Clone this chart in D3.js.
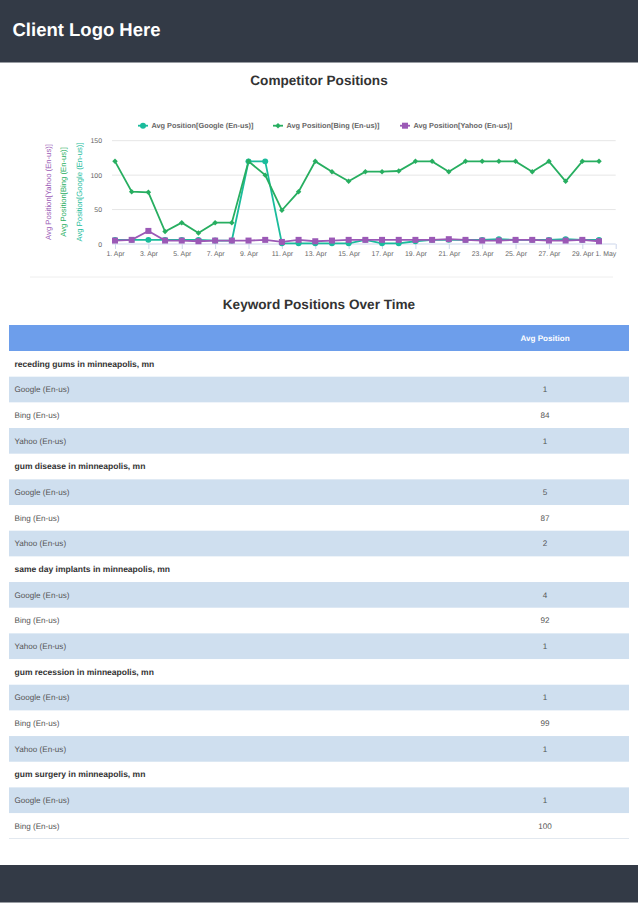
<!DOCTYPE html>
<html>
<head>
<meta charset="utf-8">
<script src="https://d3js.org/d3.v7.min.js"></script>
<style>
  html, body { margin: 0; padding: 0; background: #fff; }
  text { font-family: "Liberation Sans", Arial, sans-serif; text-rendering: geometricPrecision; }
</style>
</head>
<body>
<div id="page"></div>
<script>
// chart data
const dayLabels = ["1. Apr","2. Apr","3. Apr","4. Apr","5. Apr","6. Apr","7. Apr","8. Apr","9. Apr","10. Apr",
  "11. Apr","12. Apr","13. Apr","14. Apr","15. Apr","16. Apr","17. Apr","18. Apr","19. Apr","20. Apr",
  "21. Apr","22. Apr","23. Apr","24. Apr","25. Apr","26. Apr","27. Apr","28. Apr","29. Apr","30. Apr","1. May"]
const googleValues = [6,6,6,6,6,6,5,5,120,120,1,1,1,1,1,6,1,1,4,6,6,6,6,7,6,6,6,7,6,6]
const bingValues = [120,76,75,18,31,16,31,31,120,100,49,76,120,105,91,105,105,106,120,120,105,120,120,120,120,105,120,91,120,120]
const yahooValues = [5,6,19,5,5,4,5,5,5,6,3,6,4,5,6,6,6,6,6,6,7,6,5,5,6,6,5,5,6,4]
const yTicks = [0,50,100,150]

// table data
const keywords = ["receding gums in minneapolis, mn","gum disease in minneapolis, mn","same day implants in minneapolis, mn",
  "gum recession in minneapolis, mn","gum surgery in minneapolis, mn"]
const engines = ["Google (En-us)","Bing (En-us)","Yahoo (En-us)"]
const keywordPositions = [[1,84,1],[5,87,2],[4,92,1],[1,99,1],[1,100]]

const W = 638, H = 903
const svg = d3.select("#page").append("svg")
  .attr("width", W).attr("height", H)
  .style("display", "block")

// header and footer bands
svg.append("rect").attr("width", W).attr("height", 62.5).attr("fill", "#333a46")
svg.append("rect").attr("y", 865).attr("width", W).attr("height", 37.5).attr("fill", "#333a46")
svg.append("text").attr("x", 12.5).attr("y", 36).attr("fill", "#fff")
  .attr("font-size", 18.5).attr("font-weight", "bold").text("Client Logo Here")

svg.append("text").attr("x", 319).attr("y", 85).attr("text-anchor", "middle")
  .attr("fill", "#333").attr("font-size", 13.6).attr("font-weight", "bold").text("Competitor Positions")
svg.append("text").attr("x", 319).attr("y", 309).attr("text-anchor", "middle")
  .attr("fill", "#333").attr("font-size", 13.6).attr("font-weight", "bold").text("Keyword Positions Over Time")

// chart
const x = d3.scalePoint().domain(dayLabels).range([115, 615.7])
const y = d3.scaleLinear().domain([0, 150]).range([244, 140.7])

const grid = svg.append("g")
grid.selectAll("line").data(yTicks.filter(d => d > 0)).enter().append("line")
  .attr("x1", 112).attr("x2", 615.7)
  .attr("y1", d => y(d)).attr("y2", d => y(d))
  .attr("stroke", "#e6e6e6").attr("stroke-width", 1)

const xAxis = d3.axisBottom(x)
  .tickValues(dayLabels.filter((d, i) => i % 2 === 0))
  .tickSize(5).tickSizeOuter(0)
const xG = svg.append("g").attr("transform", "translate(0,244)").call(xAxis)
xG.select(".domain").remove()
svg.append("line").attr("x1", 112).attr("x2", 615.7).attr("y1", 244).attr("y2", 244).attr("stroke", "#ccd6eb")
xG.selectAll(".tick line").attr("stroke", "#ccd6eb")
xG.selectAll("text").attr("fill", "#666").attr("font-size", 6.9).attr("y", 12).attr("dy", 0)
  .style("font-family", '"Liberation Sans", Arial, sans-serif')
// last label stays inside the plot
xG.selectAll("text").filter(d => d === "1. May").attr("text-anchor", "end")

const yAxis = d3.axisLeft(y).tickValues(yTicks).tickSize(0)
const yG = svg.append("g").attr("transform", "translate(105,0)").call(yAxis)
yG.select(".domain").remove()
yG.selectAll("text").attr("fill", "#666").attr("font-size", 6.9)
  .style("font-family", '"Liberation Sans", Arial, sans-serif')

// rotated axis titles
const axisTitles = [
  { label: "Avg Position[Yahoo (En-us)]", color: "#9b59b6", px: 50.5 },
  { label: "Avg Position[Bing (En-us)]", color: "#27ae60", px: 66 },
  { label: "Avg Position[Google (En-us)]", color: "#1abc9c", px: 81.5 }
]
svg.selectAll(".axis-title").data(axisTitles).enter().append("text")
  .attr("class", "axis-title")
  .attr("transform", d => `translate(${d.px},192) rotate(-90)`)
  .attr("text-anchor", "middle")
  .attr("fill", d => d.color).attr("font-size", 7.7)
  .text(d => d.label)

// wide diamond, d3's own is too narrow
const rhombus = {
  draw(ctx, size) {
    const r = Math.sqrt(size / 2)
    ctx.moveTo(0, -r); ctx.lineTo(r, 0); ctx.lineTo(0, r); ctx.lineTo(-r, 0); ctx.closePath()
  }
}

const seriesList = [
  { name: "Avg Position[Google (En-us)]", values: googleValues, color: "#1abc9c", shape: d3.symbolCircle, size: 28, legendX: 138 },
  { name: "Avg Position[Bing (En-us)]", values: bingValues, color: "#27ae60", shape: rhombus, size: 15, legendX: 273 },
  { name: "Avg Position[Yahoo (En-us)]", values: yahooValues, color: "#9b59b6", shape: d3.symbolSquare, size: 36, legendX: 400 }
]

const line = d3.line().x((d, i) => x(dayLabels[i])).y(d => y(d))

seriesList.forEach(s => {
  svg.append("path").datum(s.values)
    .attr("d", line).attr("fill", "none")
    .attr("stroke", s.color).attr("stroke-width", 1.8)
  svg.append("g").selectAll("path").data(s.values).enter().append("path")
    .attr("d", d3.symbol().type(s.shape).size(s.size))
    .attr("transform", (d, i) => `translate(${x(dayLabels[i])},${y(d)})`)
    .attr("fill", s.color)

  // legend entry
  const lg = svg.append("g").attr("transform", `translate(${s.legendX},125.7)`)
  lg.append("line").attr("x1", 0).attr("x2", 10).attr("stroke", s.color).attr("stroke-width", 1.8)
  lg.append("path").attr("d", d3.symbol().type(s.shape).size(s.size))
    .attr("transform", "translate(5,0)").attr("fill", s.color)
  lg.append("text").attr("x", 13.5).attr("y", 2.6).attr("fill", "#666")
    .attr("font-size", 7.34).attr("font-weight", "bold").text(s.name)
})

// line closing the chart block
svg.append("line").attr("x1", 30).attr("x2", 613).attr("y1", 277).attr("y2", 277).attr("stroke", "#eeeeee")

// table
const tableLeft = 9, tableRight = 629, headTop = 325, headH = 26, rowH = 25.67
svg.append("rect").attr("x", tableLeft).attr("y", headTop).attr("width", tableRight - tableLeft).attr("height", headH).attr("fill", "#6d9eeb")
svg.append("text").attr("x", 545).attr("y", headTop + 16).attr("text-anchor", "middle")
  .attr("fill", "#fff").attr("font-size", 8.1).attr("font-weight", "bold").text("Avg Position")

const rows = []
keywords.forEach((k, i) => {
  rows.push({ label: k, bold: true })
  keywordPositions[i].forEach((v, j) => rows.push({ label: engines[j], value: v }))
})

const rowG = svg.selectAll(".row").data(rows).enter().append("g")
  .attr("class", "row")
  .attr("transform", (d, i) => `translate(0,${headTop + headH + i * rowH})`)
rowG.filter((d, i) => i % 2 === 1).append("rect")
  .attr("x", tableLeft).attr("width", tableRight - tableLeft).attr("height", rowH).attr("fill", "#cfdfef")
rowG.append("text").attr("x", 14.5).attr("y", 15.5)
  .attr("fill", d => d.bold ? "#333" : "#555").attr("font-size", d => d.bold ? 8.5 : 8.1)
  .attr("font-weight", d => d.bold ? "bold" : "normal").text(d => d.label)
rowG.filter(d => !d.bold).append("text").attr("x", 545).attr("y", 15.5).attr("text-anchor", "middle")
  .attr("fill", "#555").attr("font-size", 8.1).text(d => d.value)

svg.append("line").attr("x1", tableLeft).attr("x2", tableRight).attr("y1", 838.5).attr("y2", 838.5).attr("stroke", "#e2e8ef")
</script>
</body>
</html>
